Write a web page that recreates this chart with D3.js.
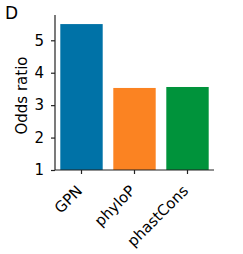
<!DOCTYPE html>
<html lang="en">
<head>
  <meta charset="UTF-8">
  <title>odds ratio</title>
  <script src="https://cdn.jsdelivr.net/npm/d3@7"></script>
  <style>
    body { margin: 0; background: #fff; }
    text { font-family: 'DejaVu Sans', sans-serif; fill: #000; }
  </style>
</head>
<body>
<script>
let width = 243;
let height = 254;

let categories = ['GPN', 'phyloP', 'phastCons'];
let oddsRatio = [5.5, 3.53, 3.56];
let yTicks = [1, 2, 3, 4, 5];
let colors = ['#0072a7', '#fb8322', '#00933b'];

let plotLeft = 55;
let plotRight = 214;
let plotTop = 15;
let plotBottom = 170;

let svg = d3.select('body')
  .append('svg')
  .attr('width', width)
  .attr('height', height);

let x = d3.scaleBand()
  .domain(categories)
  .range([plotLeft, plotRight])
  .paddingInner(0.2)
  .paddingOuter(0.1);

let y = d3.scaleLinear()
  .domain([1, 5.78])
  .range([plotBottom, plotTop]);

svg.selectAll('rect.bar')
  .data(oddsRatio)
  .enter()
  .append('rect')
  .attr('class', 'bar')
  .attr('x', (d, i) => x(categories[i]))
  .attr('y', d => y(d))
  .attr('width', x.bandwidth())
  .attr('height', d => y(1) - y(d))
  .attr('fill', (d, i) => colors[i]);

let yAxis = d3.axisLeft(y)
  .tickValues(yTicks)
  .tickFormat(d3.format('d'))
  .tickSize(4)
  .tickPadding(7);

let gy = svg.append('g')
  .attr('transform', 'translate(' + plotLeft + ',0)')
  .call(yAxis);

let xAxis = d3.axisBottom(x)
  .tickSize(4)
  .tickSizeOuter(0)
  .tickPadding(6);

let gx = svg.append('g')
  .attr('transform', 'translate(0,' + plotBottom + ')')
  .call(xAxis);

// matplotlib style spines: left runs to the top of the plot, bottom spans the bars
gy.select('.domain').attr('d', 'M0,' + plotTop + 'V' + plotBottom);
gx.select('.domain').attr('d', 'M' + plotLeft + ',0H' + plotRight);

svg.selectAll('.domain, .tick line')
  .attr('stroke', '#222')
  .attr('stroke-width', 1.2);

gx.attr('font-family', null).attr('font-size', null);
gy.attr('font-family', null).attr('font-size', null);

gy.selectAll('.tick text')
  .style('font-size', '15px');

gx.selectAll('.tick text')
  .style('font-size', '15px')
  .attr('text-anchor', 'end')
  .attr('dy', '0.35em')
  .attr('x', 0)
  .attr('y', 0)
  .attr('transform', 'translate(-2,18) rotate(-45)');

svg.append('text')
  .attr('transform', 'translate(27,' + ((plotTop + plotBottom) / 2 + 3) + ') rotate(-90)')
  .attr('text-anchor', 'middle')
  .style('font-size', '15px')
  .text('Odds ratio');

svg.append('text')
  .attr('x', 5)
  .attr('y', 19)
  .style('font-size', '17px')
  .text('D');
</script>
</body>
</html>
